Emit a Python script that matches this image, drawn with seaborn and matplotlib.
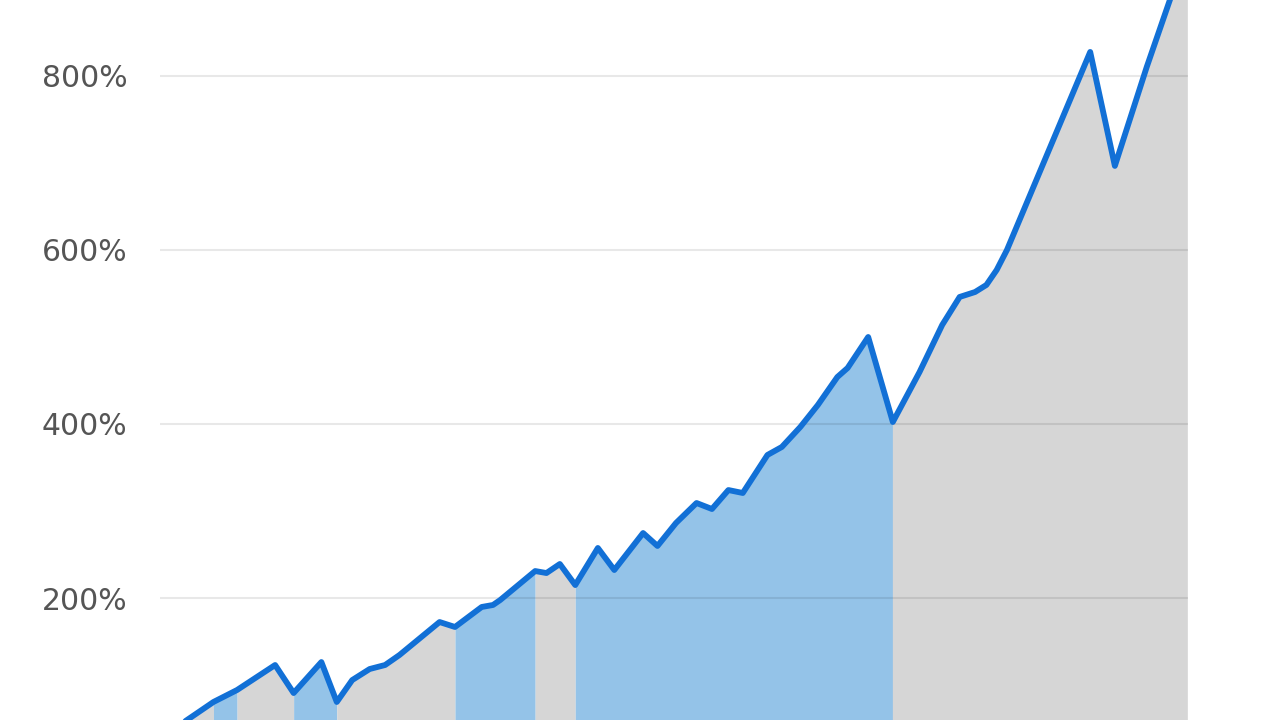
import numpy as np
import pandas as pd
import matplotlib
matplotlib.use("Agg")
import matplotlib.pyplot as plt
import seaborn as sns

# period index (0..100 across the visible span) and cumulative return (%)
period = [1.2, 5.2, 7.5, 11.2, 13.0, 15.7, 17.2, 18.7, 20.4, 21.9, 23.3, 27.2,
          28.7, 31.3, 32.4, 33.1, 36.5, 37.6, 38.9, 40.4, 42.6, 44.2, 47.0, 48.4,
          50.2, 52.2, 53.7, 55.3, 56.7, 59.1, 60.5, 62.3, 64.0, 65.9, 66.9, 68.9,
          71.3, 73.9, 76.1, 77.8, 79.3, 80.4, 81.4, 82.4, 90.5, 92.9, 96.0, 100.0]
cum_return = [48.3, 80.5, 94.3, 123.0, 90.8, 126.4, 80.5, 105.7, 118.4, 123.0, 134.5, 172.4,
              166.7, 189.7, 192.0, 197.7, 231.0, 228.7, 239.1, 214.9, 257.5, 232.2, 274.7, 259.8,
              286.2, 309.2, 302.3, 324.1, 320.7, 364.4, 373.6, 396.6, 421.8, 454.0, 464.4, 500.0,
              402.3, 459.8, 513.8, 546.0, 551.7, 559.8, 577.0, 600.0, 827.6, 696.6, 810.3, 947.1]

# shaded spans under the line: boundaries and colour group
span_breaks = [1.2, 5.2, 7.5, 13.0, 17.2, 28.7, 36.5, 40.4, 71.3, 100.0]
span_kind = ["gray", "blue", "gray", "blue", "gray", "blue", "gray", "blue", "gray"]

y_ticks = [200, 400, 600, 800]
y_tick_labels = ["200%", "400%", "600%", "800%"]

df = pd.DataFrame({"period": period, "cum_return": cum_return})

sns.set_theme(style="white")
plt.rcParams["font.family"] = ["DejaVu Sans"]

fig = plt.figure(figsize=(12.8, 7.2), dpi=100)
ax = fig.add_axes([0.125, 0.0, 0.803, 1.0])

fill_colors = {"blue": "#94c3e8", "gray": "#d6d6d6"}
x = np.array(period)
y = np.array(cum_return)
for i, kind in enumerate(span_kind):
    a, b = span_breaks[i], span_breaks[i + 1]
    m = (x >= a - 1e-9) & (x <= b + 1e-9)
    ax.fill_between(x[m], 0, y[m], color=fill_colors[kind], linewidth=0, zorder=1)

for t in y_ticks:
    ax.axhline(t, color="black", alpha=0.09, linewidth=1.5, zorder=2)

sns.lineplot(data=df, x="period", y="cum_return", ax=ax, color="#1270d6",
             linewidth=4.2, zorder=3, solid_joinstyle="round", solid_capstyle="round")

ax.set_xlim(0, 100)
ax.set_ylim(59.8, 887.3)
ax.set_yticks(y_ticks)
ax.set_yticklabels(y_tick_labels)
ax.set_xticks([])
ax.set_xlabel("")
ax.set_ylabel("")
ax.tick_params(axis="y", length=0, pad=23.5, labelsize=21.5, labelcolor="#555555")
for s in ax.spines.values():
    s.set_visible(False)
ax.set_facecolor("white")

fig.savefig("out.png", dpi=100, facecolor="white")
